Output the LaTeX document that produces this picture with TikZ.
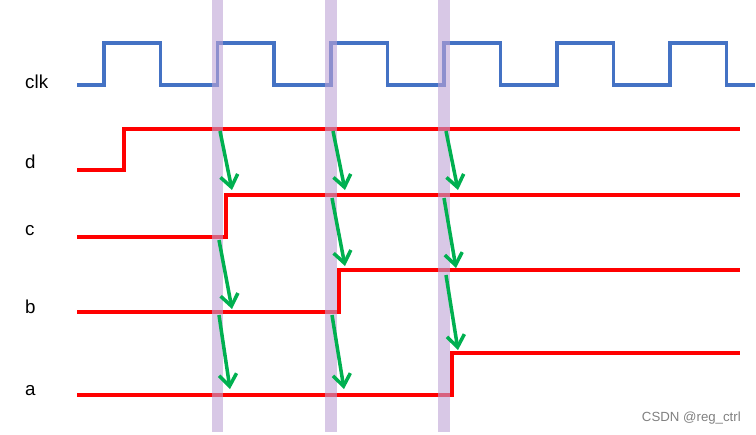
\documentclass[tikz,border=0pt]{standalone}
\usepackage{fontspec}
\setmainfont{Liberation Sans}
\usetikzlibrary{arrows.meta}

\definecolor{clkblue}{RGB}{68,114,196}
\definecolor{sigred}{RGB}{255,0,0}
\definecolor{dlygreen}{RGB}{0,176,80}
\definecolor{edgepurple}{RGB}{190,163,213}

\tikzset{
  clkline/.style={clkblue, line width=2.6pt},
  sigline/.style={sigred, line width=3pt},
  edgebar/.style={edgepurple, opacity=.6, line width=9.5pt},
  dly/.style={dlygreen, line width=3pt, -{Straight Barb[length=10pt,width=15pt]}},
  lbl/.style={font=\fontsize{16}{18}\selectfont, anchor=base west, inner sep=0pt}
}

\begin{document}
\begin{tikzpicture}[x=0.03cm, y=-0.03cm]
\useasboundingbox (0,0) rectangle (756,434);

\node[lbl] (clk) at (25,88) {clk};
\node[lbl] (d) at (25,168) {d};
\node[lbl] (c) at (25,235) {c};
\node[lbl] (b) at (25,313) {b};
\node[lbl] (a) at (25,395) {a};

\draw[clkline] (77,85)
  foreach \t in {104,217.5,331,444,557,670} { -- (\t,85) -- (\t,43) -- (\t+56.5,43) -- (\t+56.5,85) }
  -- (755,85);

\draw[sigline] (77,170) -- (124,170) -- (124,129) -- (740,129);
\draw[sigline] (77,237) -- (226,237) -- (226,195) -- (740,195);
\draw[sigline] (77,312) -- (339,312) -- (339,270) -- (740,270);
\draw[sigline] (77,395) -- (452,395) -- (452,353) -- (740,353);

\foreach \t in {217.5,331,444}
  \draw[edgebar] (\t,0) -- (\t,432);

% d -> c
\coordinate (dc1) at (220,131);  \coordinate (dc1e) at (232,190);
\coordinate (dc2) at (333,131);  \coordinate (dc2e) at (345,190);
\coordinate (dc3) at (446,131);  \coordinate (dc3e) at (458,190);
% c -> b
\coordinate (cb1) at (219,240);  \coordinate (cb1e) at (232,309);
\coordinate (cb2) at (332,198);  \coordinate (cb2e) at (345,266);
\coordinate (cb3) at (444,198);  \coordinate (cb3e) at (456,268);
% b -> a
\coordinate (ba1) at (219,315);  \coordinate (ba1e) at (230,389);
\coordinate (ba2) at (332,315);  \coordinate (ba2e) at (344,389);
\coordinate (ba3) at (446,275);  \coordinate (ba3e) at (458,350);

\draw[dly] (dc1) -- (dc1e);
\draw[dly] (dc2) -- (dc2e);
\draw[dly] (dc3) -- (dc3e);
\draw[dly] (cb1) -- (cb1e);
\draw[dly] (cb2) -- (cb2e);
\draw[dly] (cb3) -- (cb3e);
\draw[dly] (ba1) -- (ba1e);
\draw[dly] (ba2) -- (ba2e);
\draw[dly] (ba3) -- (ba3e);

\node[gray, font=\fontsize{11.3}{13}\selectfont, anchor=base east, inner sep=0pt] (mark) at (741,421) {CSDN @reg\_ctrl};
\end{tikzpicture}
\end{document}
